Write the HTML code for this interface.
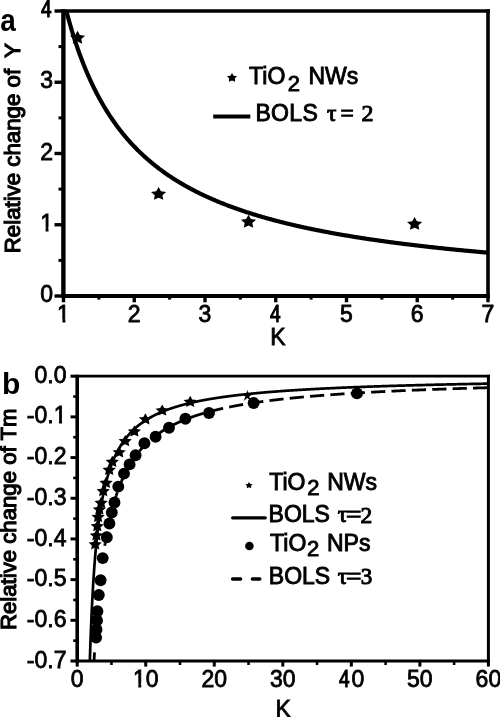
<!DOCTYPE html><html><head><meta charset="utf-8"><style>
html,body{margin:0;padding:0;background:#fff;}svg{display:block;}
text{font-family:"Liberation Sans",Arial,sans-serif;fill:#000;}
.n{font-size:23px;stroke:#000;stroke-width:0.8px;}
.four{stroke-width:1.1px;}
.t text{font-size:22.25px;stroke:#000;stroke-width:1.15px;}
.lg text{font-size:23px;stroke:#000;stroke-width:0.9px;}
.sym text{font-family:"Liberation Serif","Times New Roman",serif;font-size:23.5px;stroke:#000;stroke-width:1px;}
</style></head><body>
<svg width="500" height="717" viewBox="0 0 500 717">
<rect width="500" height="717" fill="#fff"/>
<defs><clipPath id="ca"><rect x="63.5" y="11" width="424.5" height="285"/></clipPath>
<clipPath id="cb"><rect x="77.2" y="376.2" width="411.2" height="284.8"/></clipPath></defs>
<path d="M63.50 -0.40 L64.21 2.50 L64.92 5.34 L65.62 8.13 L66.33 10.87 L67.04 13.55 L67.75 16.18 L68.45 18.77 L69.16 21.30 L69.87 23.79 L70.58 26.24 L71.28 28.64 L71.99 31.00 L72.70 33.31 L73.41 35.59 L74.11 37.83 L74.82 40.03 L75.53 42.19 L76.24 44.31 L76.94 46.40 L77.65 48.46 L78.36 50.48 L79.07 52.47 L79.77 54.43 L80.48 56.35 L81.19 58.24 L81.90 60.11 L82.60 61.94 L83.31 63.75 L84.02 65.53 L84.73 67.28 L85.43 69.01 L86.14 70.71 L86.85 72.38 L87.56 74.03 L88.26 75.65 L88.97 77.25 L89.68 78.83 L90.39 80.39 L91.09 81.92 L91.80 83.43 L92.51 84.92 L93.22 86.39 L93.92 87.84 L94.63 89.26 L95.34 90.67 L96.05 92.06 L96.75 93.43 L97.46 94.79 L98.17 96.12 L98.88 97.44 L99.58 98.74 L100.29 100.02 L101.00 101.28 L101.71 102.53 L102.41 103.77 L103.12 104.98 L103.83 106.19 L104.54 107.37 L105.24 108.54 L105.95 109.70 L106.66 110.85 L107.37 111.97 L108.07 113.09 L108.78 114.19 L109.49 115.28 L110.20 116.36 L110.90 117.42 L111.61 118.47 L112.32 119.51 L113.03 120.53 L113.73 121.55 L114.44 122.55 L115.15 123.54 L115.86 124.52 L116.56 125.49 L117.27 126.44 L117.98 127.39 L118.69 128.33 L119.39 129.25 L120.10 130.17 L120.81 131.07 L121.52 131.97 L122.22 132.85 L122.93 133.73 L123.64 134.60 L124.35 135.45 L125.05 136.30 L125.76 137.14 L126.47 137.97 L127.18 138.79 L127.88 139.61 L128.59 140.41 L129.30 141.21 L130.01 142.00 L130.71 142.78 L131.42 143.55 L132.13 144.31 L132.84 145.07 L133.54 145.82 L134.25 146.56 L134.96 147.30 L135.67 148.02 L136.37 148.74 L137.08 149.46 L137.79 150.16 L138.49 150.86 L139.20 151.56 L139.91 152.24 L140.62 152.92 L141.32 153.59 L142.03 154.26 L142.74 154.92 L143.45 155.58 L144.15 156.23 L144.86 156.87 L145.57 157.50 L146.28 158.13 L146.98 158.76 L147.69 159.38 L148.40 159.99 L149.11 160.60 L149.81 161.20 L150.52 161.80 L151.23 162.39 L151.94 162.98 L152.64 163.56 L153.35 164.14 L154.06 164.71 L154.77 165.27 L155.47 165.84 L156.18 166.39 L156.89 166.94 L157.60 167.49 L158.30 168.03 L159.01 168.57 L159.72 169.11 L160.43 169.63 L161.13 170.16 L161.84 170.68 L162.55 171.20 L163.26 171.71 L163.96 172.21 L164.67 172.72 L165.38 173.22 L166.09 173.71 L166.79 174.20 L167.50 174.69 L168.21 175.17 L168.92 175.65 L169.62 176.13 L170.33 176.60 L171.04 177.07 L171.75 177.53 L172.45 177.99 L173.16 178.45 L173.87 178.91 L174.58 179.36 L175.28 179.80 L175.99 180.25 L176.70 180.69 L177.41 181.12 L178.11 181.56 L178.82 181.99 L179.53 182.41 L180.24 182.84 L180.94 183.26 L181.65 183.67 L182.36 184.09 L183.07 184.50 L183.77 184.91 L184.48 185.31 L185.19 185.71 L185.90 186.11 L186.60 186.51 L187.31 186.90 L188.02 187.29 L188.73 187.68 L189.43 188.07 L190.14 188.45 L190.85 188.83 L191.56 189.20 L192.26 189.58 L192.97 189.95 L193.68 190.32 L194.39 190.68 L195.09 191.05 L195.80 191.41 L196.51 191.77 L197.22 192.12 L197.92 192.48 L198.63 192.83 L199.34 193.18 L200.05 193.53 L200.75 193.87 L201.46 194.21 L202.17 194.55 L202.88 194.89 L203.58 195.23 L204.29 195.56 L205.00 195.89 L205.71 196.22 L206.41 196.54 L207.12 196.87 L207.83 197.19 L208.54 197.51 L209.24 197.83 L209.95 198.14 L210.66 198.46 L211.37 198.77 L212.07 199.08 L212.78 199.39 L213.49 199.69 L214.20 200.00 L214.90 200.30 L215.61 200.60 L216.32 200.90 L217.03 201.19 L217.73 201.49 L218.44 201.78 L219.15 202.07 L219.86 202.36 L220.56 202.65 L221.27 202.94 L221.98 203.22 L222.69 203.50 L223.39 203.78 L224.10 204.06 L224.81 204.34 L225.52 204.61 L226.22 204.89 L226.93 205.16 L227.64 205.43 L228.35 205.70 L229.05 205.96 L229.76 206.23 L230.47 206.49 L231.18 206.76 L231.88 207.02 L232.59 207.28 L233.30 207.53 L234.01 207.79 L234.71 208.05 L235.42 208.30 L236.13 208.55 L236.84 208.80 L237.54 209.05 L238.25 209.30 L238.96 209.54 L239.67 209.79 L240.37 210.03 L241.08 210.27 L241.79 210.51 L242.50 210.75 L243.20 210.99 L243.91 211.23 L244.62 211.46 L245.33 211.70 L246.03 211.93 L246.74 212.16 L247.45 212.39 L248.16 212.62 L248.86 212.85 L249.57 213.07 L250.28 213.30 L250.99 213.52 L251.69 213.75 L252.40 213.97 L253.11 214.19 L253.82 214.41 L254.52 214.62 L255.23 214.84 L255.94 215.06 L256.65 215.27 L257.35 215.48 L258.06 215.70 L258.77 215.91 L259.48 216.12 L260.18 216.33 L260.89 216.53 L261.60 216.74 L262.31 216.95 L263.01 217.15 L263.72 217.35 L264.43 217.56 L265.14 217.76 L265.84 217.96 L266.55 218.16 L267.26 218.36 L267.97 218.55 L268.67 218.75 L269.38 218.94 L270.09 219.14 L270.80 219.33 L271.50 219.52 L272.21 219.71 L272.92 219.91 L273.63 220.09 L274.33 220.28 L275.04 220.47 L275.75 220.66 L276.46 220.84 L277.16 221.03 L277.87 221.21 L278.58 221.39 L279.29 221.58 L279.99 221.76 L280.70 221.94 L281.41 222.12 L282.12 222.30 L282.82 222.47 L283.53 222.65 L284.24 222.83 L284.95 223.00 L285.65 223.17 L286.36 223.35 L287.07 223.52 L287.78 223.69 L288.48 223.86 L289.19 224.03 L289.90 224.20 L290.61 224.37 L291.31 224.54 L292.02 224.71 L292.73 224.87 L293.44 225.04 L294.14 225.20 L294.85 225.37 L295.56 225.53 L296.27 225.69 L296.97 225.85 L297.68 226.01 L298.39 226.17 L299.10 226.33 L299.80 226.49 L300.51 226.65 L301.22 226.81 L301.93 226.96 L302.63 227.12 L303.34 227.27 L304.05 227.43 L304.76 227.58 L305.46 227.73 L306.17 227.89 L306.88 228.04 L307.59 228.19 L308.29 228.34 L309.00 228.49 L309.71 228.64 L310.42 228.79 L311.12 228.93 L311.83 229.08 L312.54 229.23 L313.25 229.37 L313.95 229.52 L314.66 229.66 L315.37 229.81 L316.08 229.95 L316.78 230.09 L317.49 230.23 L318.20 230.37 L318.91 230.52 L319.61 230.66 L320.32 230.79 L321.03 230.93 L321.74 231.07 L322.44 231.21 L323.15 231.35 L323.86 231.48 L324.57 231.62 L325.27 231.75 L325.98 231.89 L326.69 232.02 L327.40 232.16 L328.10 232.29 L328.81 232.42 L329.52 232.55 L330.23 232.69 L330.93 232.82 L331.64 232.95 L332.35 233.08 L333.06 233.21 L333.76 233.33 L334.47 233.46 L335.18 233.59 L335.89 233.72 L336.59 233.84 L337.30 233.97 L338.01 234.10 L338.72 234.22 L339.42 234.35 L340.13 234.47 L340.84 234.59 L341.55 234.72 L342.25 234.84 L342.96 234.96 L343.67 235.08 L344.38 235.20 L345.08 235.32 L345.79 235.44 L346.50 235.56 L347.21 235.68 L347.91 235.80 L348.62 235.92 L349.33 236.04 L350.04 236.16 L350.74 236.27 L351.45 236.39 L352.16 236.50 L352.87 236.62 L353.57 236.73 L354.28 236.85 L354.99 236.96 L355.70 237.08 L356.40 237.19 L357.11 237.30 L357.82 237.42 L358.53 237.53 L359.23 237.64 L359.94 237.75 L360.65 237.86 L361.36 237.97 L362.06 238.08 L362.77 238.19 L363.48 238.30 L364.19 238.41 L364.89 238.52 L365.60 238.62 L366.31 238.73 L367.02 238.84 L367.72 238.95 L368.43 239.05 L369.14 239.16 L369.85 239.26 L370.55 239.37 L371.26 239.47 L371.97 239.58 L372.68 239.68 L373.38 239.78 L374.09 239.89 L374.80 239.99 L375.51 240.09 L376.21 240.19 L376.92 240.29 L377.63 240.40 L378.34 240.50 L379.04 240.60 L379.75 240.70 L380.46 240.80 L381.17 240.90 L381.87 241.00 L382.58 241.09 L383.29 241.19 L384.00 241.29 L384.70 241.39 L385.41 241.48 L386.12 241.58 L386.83 241.68 L387.53 241.77 L388.24 241.87 L388.95 241.97 L389.66 242.06 L390.36 242.16 L391.07 242.25 L391.78 242.34 L392.49 242.44 L393.19 242.53 L393.90 242.62 L394.61 242.72 L395.32 242.81 L396.02 242.90 L396.73 242.99 L397.44 243.09 L398.15 243.18 L398.85 243.27 L399.56 243.36 L400.27 243.45 L400.98 243.54 L401.68 243.63 L402.39 243.72 L403.10 243.81 L403.81 243.90 L404.51 243.98 L405.22 244.07 L405.93 244.16 L406.64 244.25 L407.34 244.34 L408.05 244.42 L408.76 244.51 L409.47 244.60 L410.17 244.68 L410.88 244.77 L411.59 244.85 L412.30 244.94 L413.00 245.02 L413.71 245.11 L414.42 245.19 L415.13 245.28 L415.83 245.36 L416.54 245.44 L417.25 245.53 L417.96 245.61 L418.66 245.69 L419.37 245.77 L420.08 245.86 L420.79 245.94 L421.49 246.02 L422.20 246.10 L422.91 246.18 L423.62 246.26 L424.32 246.34 L425.03 246.42 L425.74 246.50 L426.45 246.58 L427.15 246.66 L427.86 246.74 L428.57 246.82 L429.28 246.90 L429.98 246.98 L430.69 247.06 L431.40 247.14 L432.11 247.21 L432.81 247.29 L433.52 247.37 L434.23 247.44 L434.94 247.52 L435.64 247.60 L436.35 247.67 L437.06 247.75 L437.77 247.83 L438.47 247.90 L439.18 247.98 L439.89 248.05 L440.60 248.13 L441.30 248.20 L442.01 248.28 L442.72 248.35 L443.43 248.42 L444.13 248.50 L444.84 248.57 L445.55 248.64 L446.26 248.72 L446.96 248.79 L447.67 248.86 L448.38 248.93 L449.09 249.01 L449.79 249.08 L450.50 249.15 L451.21 249.22 L451.92 249.29 L452.62 249.36 L453.33 249.43 L454.04 249.51 L454.75 249.58 L455.45 249.65 L456.16 249.72 L456.87 249.79 L457.58 249.86 L458.28 249.92 L458.99 249.99 L459.70 250.06 L460.41 250.13 L461.11 250.20 L461.82 250.27 L462.53 250.34 L463.24 250.40 L463.94 250.47 L464.65 250.54 L465.36 250.61 L466.07 250.67 L466.77 250.74 L467.48 250.81 L468.19 250.87 L468.90 250.94 L469.60 251.01 L470.31 251.07 L471.02 251.14 L471.73 251.20 L472.43 251.27 L473.14 251.33 L473.85 251.40 L474.56 251.46 L475.26 251.53 L475.97 251.59 L476.68 251.66 L477.39 251.72 L478.09 251.78 L478.80 251.85 L479.51 251.91 L480.22 251.97 L480.92 252.04 L481.63 252.10 L482.34 252.16 L483.05 252.22 L483.75 252.29 L484.46 252.35 L485.17 252.41 L485.88 252.47 L486.58 252.53 L487.29 252.60 L488.00 252.66" fill="none" stroke="#000" stroke-width="4.2" clip-path="url(#ca)"/>
<g stroke="#000" fill="none">
<line x1="61.5" y1="11" x2="489.8" y2="11" stroke-width="3.5"/>
<line x1="488" y1="9.3" x2="488" y2="298" stroke-width="3.6"/>
<line x1="63.4" y1="9.3" x2="63.4" y2="298" stroke-width="4.4"/>
<line x1="61.5" y1="296" x2="489.8" y2="296" stroke-width="4"/>
<line x1="54.5" y1="296.00" x2="62" y2="296.00" stroke-width="3.4"/>
<line x1="58.5" y1="260.38" x2="62" y2="260.38" stroke-width="3"/>
<line x1="54.5" y1="224.75" x2="62" y2="224.75" stroke-width="3.4"/>
<line x1="58.5" y1="189.12" x2="62" y2="189.12" stroke-width="3"/>
<line x1="54.5" y1="153.50" x2="62" y2="153.50" stroke-width="3.4"/>
<line x1="58.5" y1="117.88" x2="62" y2="117.88" stroke-width="3"/>
<line x1="54.5" y1="82.25" x2="62" y2="82.25" stroke-width="3.4"/>
<line x1="58.5" y1="46.62" x2="62" y2="46.62" stroke-width="3"/>
<line x1="54.5" y1="11.00" x2="62" y2="11.00" stroke-width="3.4"/>
<line x1="63.50" y1="297" x2="63.50" y2="302.3" stroke-width="3.4"/>
<line x1="98.88" y1="297" x2="98.88" y2="299.6" stroke-width="3"/>
<line x1="134.25" y1="297" x2="134.25" y2="302.3" stroke-width="3.4"/>
<line x1="169.62" y1="297" x2="169.62" y2="299.6" stroke-width="3"/>
<line x1="205.00" y1="297" x2="205.00" y2="302.3" stroke-width="3.4"/>
<line x1="240.38" y1="297" x2="240.38" y2="299.6" stroke-width="3"/>
<line x1="275.75" y1="297" x2="275.75" y2="302.3" stroke-width="3.4"/>
<line x1="311.12" y1="297" x2="311.12" y2="299.6" stroke-width="3"/>
<line x1="346.50" y1="297" x2="346.50" y2="302.3" stroke-width="3.4"/>
<line x1="381.88" y1="297" x2="381.88" y2="299.6" stroke-width="3"/>
<line x1="417.25" y1="297" x2="417.25" y2="302.3" stroke-width="3.4"/>
<line x1="452.62" y1="297" x2="452.62" y2="299.6" stroke-width="3"/>
<line x1="488.00" y1="297" x2="488.00" y2="302.3" stroke-width="3.4"/>
</g>
<g fill="#000">
<path d="M77.50 30.80 L79.85 35.03 L85.11 35.71 L81.30 39.00 L82.20 43.64 L77.50 41.45 L72.80 43.64 L73.70 39.00 L69.89 35.71 L75.15 35.03Z"/>
<path d="M158.60 187.00 L160.95 191.23 L166.21 191.91 L162.40 195.20 L163.30 199.84 L158.60 197.65 L153.90 199.84 L154.80 195.20 L150.99 191.91 L156.25 191.23Z"/>
<path d="M248.50 214.80 L250.85 219.03 L256.11 219.71 L252.30 223.00 L253.20 227.64 L248.50 225.45 L243.80 227.64 L244.70 223.00 L240.89 219.71 L246.15 219.03Z"/>
<path d="M414.60 217.00 L416.95 221.23 L422.21 221.91 L418.40 225.20 L419.30 229.84 L414.60 227.65 L409.90 229.84 L410.80 225.20 L406.99 221.91 L412.25 221.23Z"/>
</g>
<g class="n" text-anchor="end">
<text x="53" y="302.00">0</text>
<text x="53" y="230.75">1</text>
<text x="53" y="159.50">2</text>
<text x="53" y="88.25">3</text>
</g>
<text class="n four" transform="translate(40.9,17) scale(0.83,1)">4</text>
<g class="n" text-anchor="middle">
<text x="63.50" y="322">1</text>
<text x="134.25" y="322">2</text>
<text x="205.00" y="322">3</text>
<text x="346.50" y="322">5</text>
<text x="417.25" y="322">6</text>
<text x="488.00" y="322">7</text>
<text x="278" y="345.2">K</text>
</g>
<text class="n four" transform="translate(270.1,322) scale(0.83,1)">4</text>
<g class="t">
<text transform="translate(20.1,253.2) rotate(-90)">Relative change of</text>
<text transform="translate(20.1,57.9) rotate(-90)">Y</text>
</g>
<text transform="translate(0.3,31) scale(0.9,1)" style="font-size:31px;font-weight:bold">a</text>
<path d="M232.00 73.00 L233.71 75.66 L237.04 76.32 L234.77 78.62 L235.12 81.68 L232.00 80.44 L228.88 81.68 L229.23 78.62 L226.96 76.32 L230.29 75.66Z"/>
<g class="lg">
<text x="249.1" y="83.7">TiO</text>
<text x="287.7" y="91.2" style="font-size:22px">2</text>
<text x="308.5" y="83.7">NWs</text>
<text x="255.4" y="120.8" style="letter-spacing:0.35px">BOLS</text>
</g>
<g class="sym">
<text x="326.9" y="121.2">τ</text>
<text x="340.5" y="121.2">=</text>
<text x="361.5" y="121.4" style="font-size:24px">2</text>
</g>
<line x1="213.2" y1="116.5" x2="250.3" y2="116.5" stroke="#000" stroke-width="4"/>
<g clip-path="url(#cb)" fill="none" stroke="#000">
<path d="M87.48 764.87 L87.51 763.34 L87.53 761.82 L87.56 760.31 L87.58 758.81 L87.61 757.31 L87.63 755.82 L87.66 754.34 L87.68 752.87 L87.71 751.40 L87.74 749.95 L87.76 748.50 L87.79 747.06 L87.81 745.63 L87.84 744.20 L87.87 742.78 L87.89 741.37 L87.92 739.97 L87.95 738.57 L87.97 737.19 L88.00 735.81 L88.02 734.43 L88.05 733.07 L88.08 731.71 L88.11 730.36 L88.13 729.01 L88.16 727.68 L88.19 726.34 L88.21 725.02 L88.24 723.71 L88.27 722.40 L88.29 721.09 L88.32 719.80 L88.35 718.51 L88.38 717.23 L88.40 715.95 L88.43 714.68 L88.46 713.42 L88.49 712.16 L88.51 710.91 L88.54 709.67 L88.57 708.43 L88.60 707.20 L88.63 705.98 L88.65 704.76 L88.68 703.55 L88.71 702.35 L88.74 701.15 L88.77 699.96 L88.80 698.77 L88.83 697.59 L88.85 696.41 L88.88 695.25 L88.91 694.08 L88.94 692.93 L88.97 691.77 L89.00 690.63 L89.03 689.49 L89.06 688.36 L89.09 687.23 L89.11 686.11 L89.14 684.99 L89.17 683.88 L89.20 682.77 L89.23 681.67 L89.26 680.58 L89.29 679.49 L89.32 678.41 L89.35 677.33 L89.38 676.26 L89.41 675.19 L89.44 674.13 L89.47 673.07 L89.50 672.02 L89.53 670.97 L89.56 669.93 L89.59 668.89 L89.62 667.86 L89.65 666.84 L89.68 665.81 L89.72 664.80 L89.75 663.79 L89.78 662.78 L89.81 661.78 L89.84 660.78 L89.87 659.79 L89.90 658.80 L89.93 657.82 L89.96 656.85 L90.00 655.87 L90.03 654.90 L90.06 653.94 L90.09 652.98 L90.12 652.03 L90.15 651.08 L90.19 650.13 L90.22 649.19 L90.25 648.26 L90.28 647.33 L90.31 646.40 L90.35 645.48 L90.38 644.56 L90.41 643.64 L90.44 642.73 L90.48 641.83 L90.51 640.93 L90.54 640.03 L90.57 639.14 L90.61 638.25 L90.64 637.37 L90.67 636.49 L90.71 635.61 L90.74 634.74 L90.77 633.87 L90.81 633.01 L90.84 632.15 L90.87 631.29 L90.91 630.44 L90.94 629.59 L90.97 628.75 L91.01 627.91 L91.04 627.07 L91.08 626.24 L91.11 625.41 L91.15 624.58 L91.18 623.76 L91.21 622.94 L91.25 622.13 L91.28 621.32 L91.32 620.51 L91.35 619.71 L91.39 618.91 L91.42 618.12 L91.46 617.33 L91.49 616.54 L91.53 615.75 L91.56 614.97 L91.60 614.19 L91.63 613.42 L91.67 612.65 L91.71 611.88 L91.74 611.12 L91.78 610.36 L91.81 609.60 L91.85 608.85 L91.88 608.10 L91.92 607.35 L91.96 606.60 L91.99 605.86 L92.03 605.13 L92.07 604.39 L92.10 603.66 L92.14 602.93 L92.18 602.21 L92.21 601.49 L92.25 600.77 L92.29 600.06 L92.32 599.34 L92.36 598.64 L92.40 597.93 L92.44 597.23 L92.47 596.53 L92.51 595.83 L92.55 595.14 L92.59 594.45 L92.62 593.76 L92.66 593.07 L92.70 592.39 L92.74 591.71 L92.78 591.04 L92.82 590.36 L92.85 589.69 L92.89 589.03 L92.93 588.36 L92.97 587.70 L93.01 587.04 L93.05 586.39 L93.09 585.73 L93.13 585.08 L93.17 584.43 L93.20 583.79 L93.24 583.15 L93.28 582.51 L93.32 581.87 L93.36 581.24 L93.40 580.60 L93.44 579.97 L93.48 579.35 L93.52 578.72 L93.56 578.10 L93.60 577.48 L93.64 576.87 L93.68 576.25 L93.72 575.64 L93.77 575.03 L93.81 574.43 L93.85 573.82 L93.89 573.22 L93.93 572.62 L93.97 572.03 L94.01 571.43 L94.05 570.84 L94.09 570.25 L94.14 569.67 L94.18 569.08 L94.22 568.50 L94.26 567.92 L94.30 567.34 L94.35 566.77 L94.39 566.19 L94.43 565.62 L94.47 565.06 L94.51 564.49 L94.56 563.93 L94.60 563.37 L94.64 562.81 L94.69 562.25 L94.73 561.69 L94.77 561.14 L94.82 560.59 L94.86 560.04 L94.90 559.50 L94.95 558.95 L94.99 558.41 L95.03 557.87 L95.08 557.33 L95.12 556.80 L95.17 556.27 L95.21 555.73 L95.25 555.21 L95.30 554.68 L95.34 554.15 L95.39 553.63 L95.43 553.11 L95.48 552.59 L95.52 552.07 L95.57 551.56 L95.61 551.05 L95.66 550.53 L95.70 550.03 L95.75 549.52 L95.79 549.01 L95.84 548.51 L95.89 548.01 L95.93 547.51 L95.98 547.01 L96.02 546.52 L96.07 546.02 L96.12 545.53 L96.16 545.04 L96.21 544.55 L96.26 544.06 L96.30 543.58 L96.35 543.10 L96.40 542.62 L96.45 542.14 L96.49 541.66 L96.54 541.18 L96.59 540.71 L96.64 540.24 L96.68 539.77 L96.73 539.30 L96.78 538.83 L96.83 538.37 L96.88 537.90 L96.93 537.44 L96.97 536.98 L97.02 536.52 L97.07 536.07 L97.12 535.61 L97.17 535.16 L97.22 534.71 L97.27 534.26 L97.32 533.81 L97.37 533.36 L97.42 532.92 L97.47 532.47 L97.52 532.03 L97.57 531.59 L97.62 531.15 L97.67 530.71 L97.72 530.28 L97.77 529.85 L97.82 529.41 L97.87 528.98 L97.92 528.55 L97.97 528.12 L98.02 527.70 L98.07 527.27 L98.12 526.85 L98.18 526.43 L98.23 526.01 L98.28 525.59 L98.33 525.17 L98.38 524.76 L98.44 524.34 L98.49 523.93 L98.54 523.52 L98.59 523.11 L98.65 522.70 L98.70 522.29 L98.75 521.89 L98.80 521.48 L98.86 521.08 L98.91 520.68 L98.96 520.28 L99.02 519.88 L99.07 519.48 L99.13 519.09 L99.18 518.69 L99.23 518.30 L99.29 517.91 L99.34 517.51 L99.40 517.13 L99.45 516.74 L99.51 516.35 L99.56 515.97 L99.62 515.58 L99.67 515.20 L99.73 514.82 L99.78 514.44 L99.84 514.06 L99.89 513.68 L99.95 513.31 L100.01 512.93 L100.06 512.56 L100.12 512.19 L100.17 511.81 L100.23 511.44 L100.29 511.08 L100.34 510.71 L100.40 510.34 L100.46 509.98 L100.52 509.61 L100.57 509.25 L100.63 508.89 L100.69 508.53 L100.75 508.17 L100.80 507.81 L100.86 507.46 L100.92 507.10 L100.98 506.75 L101.04 506.39 L101.10 506.04 L101.16 505.69 L101.21 505.34 L101.27 504.99 L101.33 504.65 L101.39 504.30 L101.45 503.96 L101.51 503.61 L101.57 503.27 L101.63 502.93 L101.69 502.59 L101.75 502.25 L101.81 501.91 L101.87 501.57 L101.93 501.24 L101.99 500.90 L102.06 500.57 L102.12 500.24 L102.18 499.90 L102.24 499.57 L102.30 499.24 L102.36 498.92 L102.42 498.59 L102.49 498.26 L102.55 497.94 L102.61 497.61 L102.67 497.29 L102.74 496.97 L102.80 496.65 L102.86 496.33 L102.93 496.01 L102.99 495.69 L103.05 495.37 L103.12 495.06 L103.18 494.74 L103.24 494.43 L103.31 494.11 L103.37 493.80 L103.44 493.49 L103.50 493.18 L103.57 492.87 L103.63 492.56 L103.70 492.25 L103.76 491.95 L103.83 491.64 L103.89 491.34 L103.96 491.03 L104.02 490.73 L104.09 490.43 L104.16 490.13 L104.22 489.83 L104.29 489.53 L104.36 489.23 L104.42 488.94 L104.49 488.64 L104.56 488.35 L104.62 488.05 L104.69 487.76 L104.76 487.47 L104.83 487.17 L104.90 486.88 L104.96 486.59 L105.03 486.31 L105.10 486.02 L105.17 485.73 L105.24 485.44 L105.31 485.16 L105.38 484.87 L105.45 484.59 L105.52 484.31 L105.59 484.03 L105.66 483.75 L105.73 483.47 L105.80 483.19 L105.87 482.91 L105.94 482.63 L106.01 482.35 L106.08 482.08 L106.15 481.80 L106.22 481.53 L106.29 481.25 L106.36 480.98 L106.44 480.71 L106.51 480.44 L106.58 480.17 L106.65 479.90 L106.72 479.63 L106.80 479.36 L106.87 479.10 L106.94 478.83 L107.02 478.56 L107.09 478.30 L107.16 478.04 L107.24 477.77 L107.31 477.51 L107.39 477.25 L107.46 476.99 L107.53 476.73 L107.61 476.47 L107.68 476.21 L107.76 475.95 L107.83 475.70 L107.91 475.44 L107.98 475.19 L108.06 474.93 L108.14 474.68 L108.21 474.42 L108.29 474.17 L108.37 473.92 L108.44 473.67 L108.52 473.42 L108.60 473.17 L108.67 472.92 L108.75 472.67 L108.83 472.43 L108.91 472.18 L108.99 471.93 L109.06 471.69 L109.14 471.44 L109.22 471.20 L109.30 470.96 L109.38 470.71 L109.46 470.47 L109.54 470.23 L109.62 469.99 L109.70 469.75 L109.78 469.51 L109.86 469.27 L109.94 469.04 L110.02 468.80 L110.10 468.56 L110.18 468.33 L110.26 468.09 L110.34 467.86 L110.42 467.63 L110.51 467.39 L110.59 467.16 L110.67 466.93 L110.75 466.70 L110.83 466.47 L110.92 466.24 L111.00 466.01 L111.08 465.78 L111.17 465.56 L111.25 465.33 L111.33 465.10 L111.42 464.88 L111.50 464.65 L111.59 464.43 L111.67 464.20 L111.76 463.98 L111.84 463.76 L111.93 463.54 L112.01 463.32 L112.10 463.09 L112.18 462.87 L112.27 462.66 L112.36 462.44 L112.44 462.22 L112.53 462.00 L112.62 461.78 L112.70 461.57 L112.79 461.35 L112.88 461.14 L112.97 460.92 L113.06 460.71 L113.14 460.50 L113.23 460.28 L113.32 460.07 L113.41 459.86 L113.50 459.65 L113.59 459.44 L113.68 459.23 L113.77 459.02 L113.86 458.81 L113.95 458.60 L114.04 458.39 L114.13 458.19 L114.22 457.98 L114.31 457.78 L114.40 457.57 L114.49 457.37 L114.59 457.16 L114.68 456.96 L114.77 456.76 L114.86 456.55 L114.96 456.35 L115.05 456.15 L115.14 455.95 L115.24 455.75 L115.33 455.55 L115.42 455.35 L115.52 455.15 L115.61 454.95 L115.71 454.76 L115.80 454.56 L115.90 454.36 L115.99 454.17 L116.09 453.97 L116.18 453.78 L116.28 453.58 L116.37 453.39 L116.47 453.20 L116.57 453.00 L116.66 452.81 L116.76 452.62 L116.86 452.43 L116.96 452.24 L117.06 452.05 L117.15 451.86 L117.25 451.67 L117.35 451.48 L117.45 451.29 L117.55 451.10 L117.65 450.92 L117.75 450.73 L117.85 450.55 L117.95 450.36 L118.05 450.17 L118.15 449.99 L118.25 449.81 L118.35 449.62 L118.45 449.44 L118.55 449.26 L118.65 449.07 L118.76 448.89 L118.86 448.71 L118.96 448.53 L119.06 448.35 L119.17 448.17 L119.27 447.99 L119.37 447.81 L119.48 447.64 L119.58 447.46 L119.69 447.28 L119.79 447.10 L119.90 446.93 L120.00 446.75 L120.11 446.58 L120.21 446.40 L120.32 446.23 L120.42 446.05 L120.53 445.88 L120.64 445.71 L120.74 445.53 L120.85 445.36 L120.96 445.19 L121.07 445.02 L121.17 444.85 L121.28 444.68 L121.39 444.51 L121.50 444.34 L121.61 444.17 L121.72 444.00 L121.83 443.83 L121.94 443.66 L122.05 443.50 L122.16 443.33 L122.27 443.16 L122.38 443.00 L122.49 442.83 L122.60 442.67 L122.72 442.50 L122.83 442.34 L122.94 442.17 L123.05 442.01 L123.17 441.85 L123.28 441.69 L123.39 441.52 L123.51 441.36 L123.62 441.20 L123.73 441.04 L123.85 440.88 L123.96 440.72 L124.08 440.56 L124.19 440.40 L124.31 440.24 L124.43 440.08 L124.54 439.93 L124.66 439.77 L124.78 439.61 L124.89 439.45 L125.01 439.30 L125.13 439.14 L125.25 438.99 L125.36 438.83 L125.48 438.68 L125.60 438.52 L125.72 438.37 L125.84 438.22 L125.96 438.06 L126.08 437.91 L126.20 437.76 L126.32 437.61 L126.44 437.45 L126.56 437.30 L126.68 437.15 L126.81 437.00 L126.93 436.85 L127.05 436.70 L127.17 436.55 L127.30 436.41 L127.42 436.26 L127.54 436.11 L127.67 435.96 L127.79 435.81 L127.92 435.67 L128.04 435.52 L128.17 435.37 L128.29 435.23 L128.42 435.08 L128.54 434.94 L128.67 434.79 L128.80 434.65 L128.92 434.51 L129.05 434.36 L129.18 434.22 L129.31 434.08 L129.44 433.93 L129.56 433.79 L129.69 433.65 L129.82 433.51 L129.95 433.37 L130.08 433.23 L130.21 433.09 L130.34 432.95 L130.47 432.81 L130.60 432.67 L130.74 432.53 L130.87 432.39 L131.00 432.25 L131.13 432.12 L131.27 431.98 L131.40 431.84 L131.53 431.70 L131.67 431.57 L131.80 431.43 L131.93 431.30 L132.07 431.16 L132.20 431.03 L132.34 430.89 L132.48 430.76 L132.61 430.62 L132.75 430.49 L132.88 430.36 L133.02 430.22 L133.16 430.09 L133.30 429.96 L133.44 429.83 L133.57 429.69 L133.71 429.56 L133.85 429.43 L133.99 429.30 L134.13 429.17 L134.27 429.04 L134.41 428.91 L134.55 428.78 L134.69 428.65 L134.84 428.53 L134.98 428.40 L135.12 428.27 L135.26 428.14 L135.41 428.01 L135.55 427.89 L135.69 427.76 L135.84 427.63 L135.98 427.51 L136.13 427.38 L136.27 427.26 L136.42 427.13 L136.56 427.01 L136.71 426.88 L136.85 426.76 L137.00 426.63 L137.15 426.51 L137.30 426.39 L137.44 426.27 L137.59 426.14 L137.74 426.02 L137.89 425.90 L138.04 425.78 L138.19 425.66 L138.34 425.53 L138.49 425.41 L138.64 425.29 L138.79 425.17 L138.94 425.05 L139.10 424.93 L139.25 424.81 L139.40 424.69 L139.55 424.58 L139.71 424.46 L139.86 424.34 L140.02 424.22 L140.17 424.10 L140.33 423.99 L140.48 423.87 L140.64 423.75 L140.79 423.64 L140.95 423.52 L141.11 423.41 L141.26 423.29 L141.42 423.18 L141.58 423.06 L141.74 422.95 L141.90 422.83 L142.06 422.72 L142.22 422.60 L142.38 422.49 L142.54 422.38 L142.70 422.26 L142.86 422.15 L143.02 422.04 L143.18 421.93 L143.35 421.82 L143.51 421.70 L143.67 421.59 L143.84 421.48 L144.00 421.37 L144.16 421.26 L144.33 421.15 L144.49 421.04 L144.66 420.93 L144.83 420.82 L144.99 420.71 L145.16 420.60 L145.33 420.50 L145.49 420.39 L145.66 420.28 L145.83 420.17 L146.00 420.06 L146.17 419.96 L146.34 419.85 L146.51 419.74 L146.68 419.64 L146.85 419.53 L147.02 419.43 L147.19 419.32 L147.37 419.22 L147.54 419.11 L147.71 419.01 L147.89 418.90 L148.06 418.80 L148.24 418.69 L148.41 418.59 L148.59 418.49 L148.76 418.38 L148.94 418.28 L149.11 418.18 L149.29 418.07 L149.47 417.97 L149.65 417.87 L149.82 417.77 L150.00 417.67 L150.18 417.57 L150.36 417.46 L150.54 417.36 L150.72 417.26 L150.90 417.16 L151.09 417.06 L151.27 416.96 L151.45 416.86 L151.63 416.77 L151.82 416.67 L152.00 416.57 L152.18 416.47 L152.37 416.37 L152.55 416.27 L152.74 416.18 L152.93 416.08 L153.11 415.98 L153.30 415.88 L153.49 415.79 L153.67 415.69 L153.86 415.59 L154.05 415.50 L154.24 415.40 L154.43 415.31 L154.62 415.21 L154.81 415.12 L155.00 415.02 L155.19 414.93 L155.39 414.83 L155.58 414.74 L155.77 414.64 L155.96 414.55 L156.16 414.46 L156.35 414.36 L156.55 414.27 L156.74 414.18 L156.94 414.08 L157.14 413.99 L157.33 413.90 L157.53 413.81 L157.73 413.72 L157.93 413.63 L158.12 413.53 L158.32 413.44 L158.52 413.35 L158.72 413.26 L158.92 413.17 L159.13 413.08 L159.33 412.99 L159.53 412.90 L159.73 412.81 L159.94 412.72 L160.14 412.63 L160.34 412.55 L160.55 412.46 L160.75 412.37 L160.96 412.28 L161.17 412.19 L161.37 412.10 L161.58 412.02 L161.79 411.93 L162.00 411.84 L162.20 411.76 L162.41 411.67 L162.62 411.58 L162.83 411.50 L163.04 411.41 L163.26 411.32 L163.47 411.24 L163.68 411.15 L163.89 411.07 L164.11 410.98 L164.32 410.90 L164.53 410.81 L164.75 410.73 L164.97 410.65 L165.18 410.56 L165.40 410.48 L165.62 410.39 L165.83 410.31 L166.05 410.23 L166.27 410.15 L166.49 410.06 L166.71 409.98 L166.93 409.90 L167.15 409.82 L167.37 409.73 L167.59 409.65 L167.82 409.57 L168.04 409.49 L168.26 409.41 L168.49 409.33 L168.71 409.25 L168.94 409.17 L169.16 409.09 L169.39 409.01 L169.62 408.93 L169.84 408.85 L170.07 408.77 L170.30 408.69 L170.53 408.61 L170.76 408.53 L170.99 408.45 L171.22 408.37 L171.45 408.29 L171.69 408.22 L171.92 408.14 L172.15 408.06 L172.39 407.98 L172.62 407.90 L172.85 407.83 L173.09 407.75 L173.33 407.67 L173.56 407.60 L173.80 407.52 L174.04 407.44 L174.28 407.37 L174.52 407.29 L174.76 407.22 L175.00 407.14 L175.24 407.07 L175.48 406.99 L175.72 406.92 L175.96 406.84 L176.21 406.77 L176.45 406.69 L176.69 406.62 L176.94 406.54 L177.18 406.47 L177.43 406.40 L177.68 406.32 L177.92 406.25 L178.17 406.18 L178.42 406.10 L178.67 406.03 L178.92 405.96 L179.17 405.89 L179.42 405.81 L179.67 405.74 L179.93 405.67 L180.18 405.60 L180.43 405.53 L180.69 405.45 L180.94 405.38 L181.20 405.31 L181.45 405.24 L181.71 405.17 L181.97 405.10 L182.22 405.03 L182.48 404.96 L182.74 404.89 L183.00 404.82 L183.26 404.75 L183.52 404.68 L183.79 404.61 L184.05 404.54 L184.31 404.47 L184.58 404.40 L184.84 404.33 L185.10 404.27 L185.37 404.20 L185.64 404.13 L185.90 404.06 L186.17 403.99 L186.44 403.93 L186.71 403.86 L186.98 403.79 L187.25 403.72 L187.52 403.66 L187.79 403.59 L188.06 403.52 L188.34 403.46 L188.61 403.39 L188.88 403.32 L189.16 403.26 L189.43 403.19 L189.71 403.13 L189.99 403.06 L190.27 403.00 L190.54 402.93 L190.82 402.87 L191.10 402.80 L191.38 402.74 L191.66 402.67 L191.95 402.61 L192.23 402.54 L192.51 402.48 L192.80 402.41 L193.08 402.35 L193.37 402.29 L193.65 402.22 L193.94 402.16 L194.23 402.10 L194.51 402.03 L194.80 401.97 L195.09 401.91 L195.38 401.85 L195.67 401.78 L195.97 401.72 L196.26 401.66 L196.55 401.60 L196.85 401.53 L197.14 401.47 L197.44 401.41 L197.73 401.35 L198.03 401.29 L198.33 401.23 L198.62 401.17 L198.92 401.11 L199.22 401.05 L199.52 400.98 L199.82 400.92 L200.13 400.86 L200.43 400.80 L200.73 400.74 L201.04 400.68 L201.34 400.62 L201.65 400.57 L201.95 400.51 L202.26 400.45 L202.57 400.39 L202.88 400.33 L203.19 400.27 L203.50 400.21 L203.81 400.15 L204.12 400.09 L204.43 400.04 L204.75 399.98 L205.06 399.92 L205.37 399.86 L205.69 399.81 L206.01 399.75 L206.32 399.69 L206.64 399.63 L206.96 399.58 L207.28 399.52 L207.60 399.46 L207.92 399.41 L208.24 399.35 L208.57 399.29 L208.89 399.24 L209.21 399.18 L209.54 399.12 L209.86 399.07 L210.19 399.01 L210.52 398.96 L210.85 398.90 L211.18 398.85 L211.51 398.79 L211.84 398.74 L212.17 398.68 L212.50 398.63 L212.83 398.57 L213.17 398.52 L213.50 398.46 L213.84 398.41 L214.17 398.36 L214.51 398.30 L214.85 398.25 L215.19 398.19 L215.53 398.14 L215.87 398.09 L216.21 398.03 L216.55 397.98 L216.90 397.93 L217.24 397.87 L217.58 397.82 L217.93 397.77 L218.28 397.72 L218.62 397.66 L218.97 397.61 L219.32 397.56 L219.67 397.51 L220.02 397.46 L220.37 397.40 L220.73 397.35 L221.08 397.30 L221.43 397.25 L221.79 397.20 L222.15 397.15 L222.50 397.10 L222.86 397.04 L223.22 396.99 L223.58 396.94 L223.94 396.89 L224.30 396.84 L224.66 396.79 L225.03 396.74 L225.39 396.69 L225.75 396.64 L226.12 396.59 L226.49 396.54 L226.85 396.49 L227.22 396.44 L227.59 396.39 L227.96 396.34 L228.33 396.30 L228.71 396.25 L229.08 396.20 L229.45 396.15 L229.83 396.10 L230.20 396.05 L230.58 396.00 L230.96 395.96 L231.34 395.91 L231.72 395.86 L232.10 395.81 L232.48 395.76 L232.86 395.72 L233.24 395.67 L233.63 395.62 L234.01 395.57 L234.40 395.53 L234.79 395.48 L235.17 395.43 L235.56 395.39 L235.95 395.34 L236.34 395.29 L236.74 395.25 L237.13 395.20 L237.52 395.15 L237.92 395.11 L238.31 395.06 L238.71 395.01 L239.11 394.97 L239.51 394.92 L239.91 394.88 L240.31 394.83 L240.71 394.79 L241.11 394.74 L241.51 394.70 L241.92 394.65 L242.32 394.61 L242.73 394.56 L243.14 394.52 L243.55 394.47 L243.96 394.43 L244.37 394.38 L244.78 394.34 L245.19 394.29 L245.60 394.25 L246.02 394.21 L246.44 394.16 L246.85 394.12 L247.27 394.07 L247.69 394.03 L248.11 393.99 L248.53 393.94 L248.95 393.90 L249.37 393.86 L249.80 393.81 L250.22 393.77 L250.65 393.73 L251.08 393.69 L251.50 393.64 L251.93 393.60 L252.36 393.56 L252.79 393.52 L253.23 393.47 L253.66 393.43 L254.09 393.39 L254.53 393.35 L254.97 393.31 L255.40 393.26 L255.84 393.22 L256.28 393.18 L256.72 393.14 L257.17 393.10 L257.61 393.06 L258.05 393.02 L258.50 392.98 L258.95 392.93 L259.39 392.89 L259.84 392.85 L260.29 392.81 L260.74 392.77 L261.19 392.73 L261.65 392.69 L262.10 392.65 L262.56 392.61 L263.01 392.57 L263.47 392.53 L263.93 392.49 L264.39 392.45 L264.85 392.41 L265.31 392.37 L265.78 392.33 L266.24 392.29 L266.70 392.25 L267.17 392.21 L267.64 392.18 L268.11 392.14 L268.58 392.10 L269.05 392.06 L269.52 392.02 L270.00 391.98 L270.47 391.94 L270.95 391.91 L271.42 391.87 L271.90 391.83 L272.38 391.79 L272.86 391.75 L273.34 391.71 L273.83 391.68 L274.31 391.64 L274.80 391.60 L275.28 391.56 L275.77 391.53 L276.26 391.49 L276.75 391.45 L277.24 391.41 L277.73 391.38 L278.23 391.34 L278.72 391.30 L279.22 391.27 L279.72 391.23 L280.21 391.19 L280.71 391.16 L281.21 391.12 L281.72 391.08 L282.22 391.05 L282.73 391.01 L283.23 390.97 L283.74 390.94 L284.25 390.90 L284.76 390.87 L285.27 390.83 L285.78 390.80 L286.29 390.76 L286.81 390.72 L287.33 390.69 L287.84 390.65 L288.36 390.62 L288.88 390.58 L289.40 390.55 L289.92 390.51 L290.45 390.48 L290.97 390.44 L291.50 390.41 L292.03 390.37 L292.56 390.34 L293.09 390.30 L293.62 390.27 L294.15 390.24 L294.69 390.20 L295.22 390.17 L295.76 390.13 L296.30 390.10 L296.84 390.07 L297.38 390.03 L297.92 390.00 L298.46 389.96 L299.01 389.93 L299.55 389.90 L300.10 389.86 L300.65 389.83 L301.20 389.80 L301.75 389.76 L302.30 389.73 L302.86 389.70 L303.41 389.66 L303.97 389.63 L304.53 389.60 L305.09 389.57 L305.65 389.53 L306.21 389.50 L306.78 389.47 L307.34 389.44 L307.91 389.40 L308.48 389.37 L309.05 389.34 L309.62 389.31 L310.19 389.28 L310.76 389.24 L311.34 389.21 L311.91 389.18 L312.49 389.15 L313.07 389.12 L313.65 389.09 L314.23 389.05 L314.82 389.02 L315.40 388.99 L315.99 388.96 L316.58 388.93 L317.17 388.90 L317.76 388.87 L318.35 388.84 L318.94 388.80 L319.54 388.77 L320.14 388.74 L320.73 388.71 L321.33 388.68 L321.94 388.65 L322.54 388.62 L323.14 388.59 L323.75 388.56 L324.35 388.53 L324.96 388.50 L325.57 388.47 L326.18 388.44 L326.80 388.41 L327.41 388.38 L328.03 388.35 L328.65 388.32 L329.27 388.29 L329.89 388.26 L330.51 388.23 L331.13 388.20 L331.76 388.17 L332.38 388.14 L333.01 388.12 L333.64 388.09 L334.27 388.06 L334.91 388.03 L335.54 388.00 L336.18 387.97 L336.81 387.94 L337.45 387.91 L338.09 387.88 L338.74 387.86 L339.38 387.83 L340.03 387.80 L340.67 387.77 L341.32 387.74 L341.97 387.71 L342.63 387.69 L343.28 387.66 L343.93 387.63 L344.59 387.60 L345.25 387.57 L345.91 387.55 L346.57 387.52 L347.23 387.49 L347.90 387.46 L348.57 387.44 L349.23 387.41 L349.90 387.38 L350.57 387.35 L351.25 387.33 L351.92 387.30 L352.60 387.27 L353.28 387.25 L353.96 387.22 L354.64 387.19 L355.32 387.17 L356.01 387.14 L356.69 387.11 L357.38 387.08 L358.07 387.06 L358.76 387.03 L359.46 387.01 L360.15 386.98 L360.85 386.95 L361.55 386.93 L362.25 386.90 L362.95 386.87 L363.65 386.85 L364.36 386.82 L365.06 386.80 L365.77 386.77 L366.48 386.74 L367.20 386.72 L367.91 386.69 L368.63 386.67 L369.34 386.64 L370.06 386.62 L370.78 386.59 L371.51 386.57 L372.23 386.54 L372.96 386.51 L373.69 386.49 L374.42 386.46 L375.15 386.44 L375.88 386.41 L376.62 386.39 L377.35 386.36 L378.09 386.34 L378.83 386.31 L379.58 386.29 L380.32 386.27 L381.07 386.24 L381.82 386.22 L382.57 386.19 L383.32 386.17 L384.07 386.14 L384.83 386.12 L385.58 386.09 L386.34 386.07 L387.10 386.05 L387.87 386.02 L388.63 386.00 L389.40 385.97 L390.17 385.95 L390.94 385.93 L391.71 385.90 L392.49 385.88 L393.26 385.86 L394.04 385.83 L394.82 385.81 L395.60 385.78 L396.39 385.76 L397.17 385.74 L397.96 385.71 L398.75 385.69 L399.54 385.67 L400.34 385.64 L401.13 385.62 L401.93 385.60 L402.73 385.58 L403.53 385.55 L404.33 385.53 L405.14 385.51 L405.95 385.48 L406.76 385.46 L407.57 385.44 L408.38 385.42 L409.20 385.39 L410.01 385.37 L410.83 385.35 L411.66 385.33 L412.48 385.30 L413.30 385.28 L414.13 385.26 L414.96 385.24 L415.79 385.22 L416.63 385.19 L417.46 385.17 L418.30 385.15 L419.14 385.13 L419.98 385.11 L420.83 385.08 L421.67 385.06 L422.52 385.04 L423.37 385.02 L424.22 385.00 L425.08 384.98 L425.93 384.95 L426.79 384.93 L427.65 384.91 L428.52 384.89 L429.38 384.87 L430.25 384.85 L431.12 384.83 L431.99 384.81 L432.86 384.78 L433.74 384.76 L434.62 384.74 L435.50 384.72 L436.38 384.70 L437.26 384.68 L438.15 384.66 L439.04 384.64 L439.93 384.62 L440.82 384.60 L441.72 384.58 L442.62 384.56 L443.52 384.54 L444.42 384.52 L445.32 384.50 L446.23 384.48 L447.14 384.46 L448.05 384.43 L448.96 384.41 L449.88 384.39 L450.79 384.37 L451.71 384.35 L452.64 384.33 L453.56 384.31 L454.49 384.30 L455.42 384.28 L456.35 384.26 L457.28 384.24 L458.22 384.22 L459.15 384.20 L460.10 384.18 L461.04 384.16 L461.98 384.14 L462.93 384.12 L463.88 384.10 L464.83 384.08 L465.79 384.06 L466.74 384.04 L467.70 384.02 L468.66 384.00 L469.63 383.98 L470.59 383.96 L471.56 383.95 L472.53 383.93 L473.51 383.91 L474.48 383.89 L475.46 383.87 L476.44 383.85 L477.43 383.83 L478.41 383.81 L479.40 383.80 L480.39 383.78 L481.38 383.76 L482.38 383.74 L483.37 383.72 L484.37 383.70 L485.38 383.68 L486.38 383.67 L487.39 383.65 L488.40 383.63" stroke-width="2.7"/>
<path d="M488.40 387.65 L487.49 387.68 L486.59 387.71 L485.69 387.73 L484.79 387.76 L483.89 387.78 L483.00 387.81 L482.10 387.83 L481.21 387.86 L480.32 387.88 L479.44 387.91 L478.55 387.94 L477.67 387.96 L476.79 387.99 L475.91 388.01 L475.03 388.04 L474.15 388.06 L473.28 388.09 L472.41 388.12 L471.54 388.14 L470.67 388.17 L469.80 388.20 L468.94 388.22 L468.08 388.25 L467.22 388.28 L466.36 388.30 L465.50 388.33 L464.64 388.36 L463.79 388.38 L462.94 388.41 L462.09 388.44 L461.24 388.46 L460.40 388.49 L459.56 388.52 L458.71 388.54 L457.87 388.57 L457.04 388.60 L456.20 388.63 L455.36 388.65 L454.53 388.68 L453.70 388.71 L452.87 388.74 L452.05 388.76 L451.22 388.79 L450.40 388.82 L449.58 388.85 L448.76 388.87 L447.94 388.90 L447.12 388.93 L446.31 388.96 L445.49 388.99 L444.68 389.01 L443.87 389.04 L443.07 389.07 L442.26 389.10 L441.46 389.13 L440.66 389.16 L439.86 389.18 L439.06 389.21 L438.26 389.24 L437.47 389.27 L436.67 389.30 L435.88 389.33 L435.09 389.36 L434.30 389.38 L433.52 389.41 L432.73 389.44 L431.95 389.47 L431.17 389.50 L430.39 389.53 L429.61 389.56 L428.84 389.59 L428.06 389.62 L427.29 389.65 L426.52 389.68 L425.75 389.71 L424.98 389.74 L424.22 389.77 L423.45 389.80 L422.69 389.83 L421.93 389.86 L421.17 389.89 L420.42 389.92 L419.66 389.95 L418.91 389.98 L418.15 390.01 L417.40 390.04 L416.65 390.07 L415.91 390.10 L415.16 390.13 L414.42 390.16 L413.67 390.19 L412.93 390.22 L412.19 390.25 L411.46 390.28 L410.72 390.31 L409.99 390.35 L409.25 390.38 L408.52 390.41 L407.79 390.44 L407.07 390.47 L406.34 390.50 L405.62 390.53 L404.89 390.56 L404.17 390.60 L403.45 390.63 L402.73 390.66 L402.02 390.69 L401.30 390.72 L400.59 390.76 L399.88 390.79 L399.17 390.82 L398.46 390.85 L397.75 390.88 L397.04 390.92 L396.34 390.95 L395.64 390.98 L394.94 391.01 L394.24 391.05 L393.54 391.08 L392.84 391.11 L392.15 391.14 L391.45 391.18 L390.76 391.21 L390.07 391.24 L389.38 391.28 L388.70 391.31 L388.01 391.34 L387.33 391.38 L386.64 391.41 L385.96 391.44 L385.28 391.48 L384.60 391.51 L383.93 391.54 L383.25 391.58 L382.58 391.61 L381.91 391.64 L381.23 391.68 L380.57 391.71 L379.90 391.75 L379.23 391.78 L378.57 391.81 L377.90 391.85 L377.24 391.88 L376.58 391.92 L375.92 391.95 L375.26 391.99 L374.61 392.02 L373.95 392.06 L373.30 392.09 L372.65 392.13 L372.00 392.16 L371.35 392.20 L370.70 392.23 L370.05 392.27 L369.41 392.30 L368.77 392.34 L368.12 392.37 L367.48 392.41 L366.84 392.44 L366.21 392.48 L365.57 392.52 L364.94 392.55 L364.30 392.59 L363.67 392.62 L363.04 392.66 L362.41 392.70 L361.78 392.73 L361.16 392.77 L360.53 392.81 L359.91 392.84 L359.29 392.88 L358.66 392.91 L358.04 392.95 L357.43 392.99 L356.81 393.03 L356.19 393.06 L355.58 393.10 L354.97 393.14 L354.36 393.17 L353.74 393.21 L353.14 393.25 L352.53 393.29 L351.92 393.32 L351.32 393.36 L350.71 393.40 L350.11 393.44 L349.51 393.47 L348.91 393.51 L348.31 393.55 L347.72 393.59 L347.12 393.63 L346.53 393.67 L345.93 393.70 L345.34 393.74 L344.75 393.78 L344.16 393.82 L343.58 393.86 L342.99 393.90 L342.40 393.94 L341.82 393.97 L341.24 394.01 L340.66 394.05 L340.08 394.09 L339.50 394.13 L338.92 394.17 L338.34 394.21 L337.77 394.25 L337.20 394.29 L336.62 394.33 L336.05 394.37 L335.48 394.41 L334.91 394.45 L334.35 394.49 L333.78 394.53 L333.21 394.57 L332.65 394.61 L332.09 394.65 L331.53 394.69 L330.97 394.73 L330.41 394.77 L329.85 394.81 L329.30 394.85 L328.74 394.90 L328.19 394.94 L327.63 394.98 L327.08 395.02 L326.53 395.06 L325.98 395.10 L325.44 395.14 L324.89 395.18 L324.34 395.23 L323.80 395.27 L323.26 395.31 L322.72 395.35 L322.18 395.39 L321.64 395.44 L321.10 395.48 L320.56 395.52 L320.03 395.56 L319.49 395.61 L318.96 395.65 L318.42 395.69 L317.89 395.73 L317.36 395.78 L316.84 395.82 L316.31 395.86 L315.78 395.91 L315.26 395.95 L314.73 395.99 L314.21 396.04 L313.69 396.08 L313.17 396.12 L312.65 396.17 L312.13 396.21 L311.61 396.26 L311.10 396.30 L310.58 396.34 L310.07 396.39 L309.55 396.43 L309.04 396.48 L308.53 396.52 L308.02 396.57 L307.51 396.61 L307.01 396.66 L306.50 396.70 L306.00 396.75 L305.49 396.79 L304.99 396.84 L304.49 396.88 L303.99 396.93 L303.49 396.97 L302.99 397.02 L302.49 397.06 L302.00 397.11 L301.50 397.16 L301.01 397.20 L300.52 397.25 L300.03 397.29 L299.53 397.34 L299.05 397.39 L298.56 397.43 L298.07 397.48 L297.58 397.53 L297.10 397.57 L296.61 397.62 L296.13 397.67 L295.65 397.71 L295.17 397.76 L294.69 397.81 L294.21 397.86 L293.73 397.90 L293.26 397.95 L292.78 398.00 L292.30 398.05 L291.83 398.10 L291.36 398.14 L290.89 398.19 L290.42 398.24 L289.95 398.29 L289.48 398.34 L289.01 398.39 L288.55 398.43 L288.08 398.48 L287.62 398.53 L287.15 398.58 L286.69 398.63 L286.23 398.68 L285.77 398.73 L285.31 398.78 L284.85 398.83 L284.39 398.88 L283.94 398.93 L283.48 398.98 L283.03 399.03 L282.58 399.08 L282.12 399.13 L281.67 399.18 L281.22 399.23 L280.77 399.28 L280.33 399.33 L279.88 399.38 L279.43 399.43 L278.99 399.48 L278.54 399.53 L278.10 399.58 L277.66 399.64 L277.22 399.69 L276.78 399.74 L276.34 399.79 L275.90 399.84 L275.46 399.89 L275.02 399.95 L274.59 400.00 L274.15 400.05 L273.72 400.10 L273.29 400.16 L272.86 400.21 L272.43 400.26 L272.00 400.31 L271.57 400.37 L271.14 400.42 L270.71 400.47 L270.29 400.53 L269.86 400.58 L269.44 400.63 L269.01 400.69 L268.59 400.74 L268.17 400.79 L267.75 400.85 L267.33 400.90 L266.91 400.96 L266.49 401.01 L266.08 401.07 L265.66 401.12 L265.25 401.17 L264.83 401.23 L264.42 401.28 L264.01 401.34 L263.60 401.40 L263.19 401.45 L262.78 401.51 L262.37 401.56 L261.96 401.62 L261.55 401.67 L261.15 401.73 L260.74 401.78 L260.34 401.84 L259.93 401.90 L259.53 401.95 L259.13 402.01 L258.73 402.07 L258.33 402.12 L257.93 402.18 L257.53 402.24 L257.14 402.29 L256.74 402.35 L256.35 402.41 L255.95 402.47 L255.56 402.52 L255.17 402.58 L254.77 402.64 L254.38 402.70 L253.99 402.76 L253.60 402.81 L253.21 402.87 L252.83 402.93 L252.44 402.99 L252.05 403.05 L251.67 403.11 L251.29 403.17 L250.90 403.23 L250.52 403.29 L250.14 403.34 L249.76 403.40 L249.38 403.46 L249.00 403.52 L248.62 403.58 L248.24 403.64 L247.87 403.70 L247.49 403.76 L247.12 403.83 L246.74 403.89 L246.37 403.95 L246.00 404.01 L245.62 404.07 L245.25 404.13 L244.88 404.19 L244.52 404.25 L244.15 404.31 L243.78 404.38 L243.41 404.44 L243.05 404.50 L242.68 404.56 L242.32 404.62 L241.95 404.69 L241.59 404.75 L241.23 404.81 L240.87 404.87 L240.51 404.94 L240.15 405.00 L239.79 405.06 L239.43 405.13 L239.07 405.19 L238.72 405.25 L238.36 405.32 L238.01 405.38 L237.65 405.45 L237.30 405.51 L236.95 405.57 L236.60 405.64 L236.25 405.70 L235.90 405.77 L235.55 405.83 L235.20 405.90 L234.85 405.96 L234.50 406.03 L234.16 406.09 L233.81 406.16 L233.47 406.22 L233.12 406.29 L232.78 406.36 L232.44 406.42 L232.09 406.49 L231.75 406.56 L231.41 406.62 L231.07 406.69 L230.73 406.76 L230.40 406.82 L230.06 406.89 L229.72 406.96 L229.39 407.02 L229.05 407.09 L228.72 407.16 L228.38 407.23 L228.05 407.30 L227.72 407.36 L227.39 407.43 L227.06 407.50 L226.73 407.57 L226.40 407.64 L226.07 407.71 L225.74 407.78 L225.41 407.85 L225.09 407.91 L224.76 407.98 L224.44 408.05 L224.11 408.12 L223.79 408.19 L223.47 408.26 L223.15 408.33 L222.82 408.40 L222.50 408.48 L222.18 408.55 L221.86 408.62 L221.55 408.69 L221.23 408.76 L220.91 408.83 L220.60 408.90 L220.28 408.97 L219.96 409.05 L219.65 409.12 L219.34 409.19 L219.02 409.26 L218.71 409.34 L218.40 409.41 L218.09 409.48 L217.78 409.55 L217.47 409.63 L217.16 409.70 L216.85 409.77 L216.54 409.85 L216.24 409.92 L215.93 409.99 L215.63 410.07 L215.32 410.14 L215.02 410.22 L214.71 410.29 L214.41 410.37 L214.11 410.44 L213.81 410.52 L213.51 410.59 L213.21 410.67 L212.91 410.74 L212.61 410.82 L212.31 410.89 L212.01 410.97 L211.72 411.05 L211.42 411.12 L211.13 411.20 L210.83 411.28 L210.54 411.35 L210.24 411.43 L209.95 411.51 L209.66 411.59 L209.37 411.66 L209.08 411.74 L208.78 411.82 L208.49 411.90 L208.21 411.98 L207.92 412.05 L207.63 412.13 L207.34 412.21 L207.06 412.29 L206.77 412.37 L206.48 412.45 L206.20 412.53 L205.92 412.61 L205.63 412.69 L205.35 412.77 L205.07 412.85 L204.79 412.93 L204.51 413.01 L204.23 413.09 L203.95 413.17 L203.67 413.25 L203.39 413.33 L203.11 413.41 L202.83 413.50 L202.56 413.58 L202.28 413.66 L202.01 413.74 L201.73 413.82 L201.46 413.91 L201.18 413.99 L200.91 414.07 L200.64 414.15 L200.37 414.24 L200.09 414.32 L199.82 414.40 L199.55 414.49 L199.28 414.57 L199.02 414.66 L198.75 414.74 L198.48 414.82 L198.21 414.91 L197.95 414.99 L197.68 415.08 L197.42 415.16 L197.15 415.25 L196.89 415.34 L196.62 415.42 L196.36 415.51 L196.10 415.59 L195.84 415.68 L195.58 415.77 L195.31 415.85 L195.05 415.94 L194.80 416.03 L194.54 416.11 L194.28 416.20 L194.02 416.29 L193.76 416.38 L193.51 416.47 L193.25 416.55 L193.00 416.64 L192.74 416.73 L192.49 416.82 L192.23 416.91 L191.98 417.00 L191.73 417.09 L191.47 417.18 L191.22 417.27 L190.97 417.36 L190.72 417.45 L190.47 417.54 L190.22 417.63 L189.97 417.72 L189.72 417.81 L189.48 417.90 L189.23 417.99 L188.98 418.08 L188.74 418.17 L188.49 418.27 L188.25 418.36 L188.00 418.45 L187.76 418.54 L187.51 418.64 L187.27 418.73 L187.03 418.82 L186.79 418.92 L186.55 419.01 L186.31 419.10 L186.07 419.20 L185.83 419.29 L185.59 419.39 L185.35 419.48 L185.11 419.58 L184.87 419.67 L184.64 419.77 L184.40 419.86 L184.16 419.96 L183.93 420.05 L183.69 420.15 L183.46 420.25 L183.22 420.34 L182.99 420.44 L182.76 420.54 L182.53 420.63 L182.29 420.73 L182.06 420.83 L181.83 420.93 L181.60 421.02 L181.37 421.12 L181.14 421.22 L180.91 421.32 L180.68 421.42 L180.46 421.52 L180.23 421.62 L180.00 421.72 L179.78 421.81 L179.55 421.91 L179.33 422.01 L179.10 422.12 L178.88 422.22 L178.65 422.32 L178.43 422.42 L178.21 422.52 L177.98 422.62 L177.76 422.72 L177.54 422.82 L177.32 422.93 L177.10 423.03 L176.88 423.13 L176.66 423.23 L176.44 423.34 L176.22 423.44 L176.00 423.54 L175.79 423.65 L175.57 423.75 L175.35 423.86 L175.14 423.96 L174.92 424.06 L174.71 424.17 L174.49 424.27 L174.28 424.38 L174.06 424.49 L173.85 424.59 L173.64 424.70 L173.43 424.80 L173.21 424.91 L173.00 425.02 L172.79 425.12 L172.58 425.23 L172.37 425.34 L172.16 425.45 L171.95 425.55 L171.74 425.66 L171.54 425.77 L171.33 425.88 L171.12 425.99 L170.91 426.10 L170.71 426.21 L170.50 426.31 L170.30 426.42 L170.09 426.53 L169.89 426.64 L169.68 426.76 L169.48 426.87 L169.28 426.98 L169.07 427.09 L168.87 427.20 L168.67 427.31 L168.47 427.42 L168.27 427.54 L168.07 427.65 L167.87 427.76 L167.67 427.87 L167.47 427.99 L167.27 428.10 L167.07 428.21 L166.87 428.33 L166.68 428.44 L166.48 428.56 L166.28 428.67 L166.09 428.79 L165.89 428.90 L165.69 429.02 L165.50 429.13 L165.31 429.25 L165.11 429.36 L164.92 429.48 L164.73 429.60 L164.53 429.71 L164.34 429.83 L164.15 429.95 L163.96 430.07 L163.77 430.18 L163.58 430.30 L163.39 430.42 L163.20 430.54 L163.01 430.66 L162.82 430.78 L162.63 430.90 L162.44 431.02 L162.25 431.14 L162.07 431.26 L161.88 431.38 L161.69 431.50 L161.51 431.62 L161.32 431.74 L161.14 431.86 L160.95 431.99 L160.77 432.11 L160.58 432.23 L160.40 432.35 L160.22 432.48 L160.03 432.60 L159.85 432.72 L159.67 432.85 L159.49 432.97 L159.31 433.09 L159.13 433.22 L158.94 433.34 L158.76 433.47 L158.59 433.59 L158.41 433.72 L158.23 433.85 L158.05 433.97 L157.87 434.10 L157.69 434.23 L157.52 434.35 L157.34 434.48 L157.16 434.61 L156.99 434.74 L156.81 434.86 L156.64 434.99 L156.46 435.12 L156.29 435.25 L156.11 435.38 L155.94 435.51 L155.77 435.64 L155.59 435.77 L155.42 435.90 L155.25 436.03 L155.08 436.16 L154.90 436.29 L154.73 436.42 L154.56 436.56 L154.39 436.69 L154.22 436.82 L154.05 436.95 L153.88 437.09 L153.71 437.22 L153.55 437.35 L153.38 437.49 L153.21 437.62 L153.04 437.76 L152.88 437.89 L152.71 438.03 L152.54 438.16 L152.38 438.30 L152.21 438.43 L152.05 438.57 L151.88 438.71 L151.72 438.84 L151.55 438.98 L151.39 439.12 L151.23 439.26 L151.06 439.39 L150.90 439.53 L150.74 439.67 L150.58 439.81 L150.42 439.95 L150.25 440.09 L150.09 440.23 L149.93 440.37 L149.77 440.51 L149.61 440.65 L149.45 440.79 L149.29 440.93 L149.14 441.07 L148.98 441.22 L148.82 441.36 L148.66 441.50 L148.50 441.65 L148.35 441.79 L148.19 441.93 L148.03 442.08 L147.88 442.22 L147.72 442.37 L147.57 442.51 L147.41 442.66 L147.26 442.80 L147.10 442.95 L146.95 443.09 L146.80 443.24 L146.64 443.39 L146.49 443.53 L146.34 443.68 L146.19 443.83 L146.03 443.98 L145.88 444.13 L145.73 444.27 L145.58 444.42 L145.43 444.57 L145.28 444.72 L145.13 444.87 L144.98 445.02 L144.83 445.17 L144.68 445.32 L144.53 445.48 L144.39 445.63 L144.24 445.78 L144.09 445.93 L143.94 446.09 L143.80 446.24 L143.65 446.39 L143.50 446.55 L143.36 446.70 L143.21 446.85 L143.07 447.01 L142.92 447.16 L142.78 447.32 L142.63 447.48 L142.49 447.63 L142.34 447.79 L142.20 447.94 L142.06 448.10 L141.91 448.26 L141.77 448.42 L141.63 448.58 L141.49 448.73 L141.35 448.89 L141.21 449.05 L141.06 449.21 L140.92 449.37 L140.78 449.53 L140.64 449.69 L140.50 449.85 L140.36 450.02 L140.23 450.18 L140.09 450.34 L139.95 450.50 L139.81 450.66 L139.67 450.83 L139.53 450.99 L139.40 451.16 L139.26 451.32 L139.12 451.48 L138.99 451.65 L138.85 451.81 L138.72 451.98 L138.58 452.15 L138.45 452.31 L138.31 452.48 L138.18 452.65 L138.04 452.81 L137.91 452.98 L137.77 453.15 L137.64 453.32 L137.51 453.49 L137.38 453.66 L137.24 453.83 L137.11 454.00 L136.98 454.17 L136.85 454.34 L136.72 454.51 L136.58 454.68 L136.45 454.85 L136.32 455.03 L136.19 455.20 L136.06 455.37 L135.93 455.55 L135.80 455.72 L135.68 455.89 L135.55 456.07 L135.42 456.24 L135.29 456.42 L135.16 456.60 L135.03 456.77 L134.91 456.95 L134.78 457.13 L134.65 457.30 L134.53 457.48 L134.40 457.66 L134.27 457.84 L134.15 458.02 L134.02 458.20 L133.90 458.38 L133.77 458.56 L133.65 458.74 L133.53 458.92 L133.40 459.10 L133.28 459.28 L133.15 459.46 L133.03 459.65 L132.91 459.83 L132.79 460.01 L132.66 460.20 L132.54 460.38 L132.42 460.57 L132.30 460.75 L132.18 460.94 L132.05 461.12 L131.93 461.31 L131.81 461.50 L131.69 461.68 L131.57 461.87 L131.45 462.06 L131.33 462.25 L131.22 462.44 L131.10 462.62 L130.98 462.81 L130.86 463.00 L130.74 463.19 L130.62 463.39 L130.51 463.58 L130.39 463.77 L130.27 463.96 L130.15 464.15 L130.04 464.35 L129.92 464.54 L129.81 464.73 L129.69 464.93 L129.57 465.12 L129.46 465.32 L129.34 465.51 L129.23 465.71 L129.11 465.91 L129.00 466.10 L128.89 466.30 L128.77 466.50 L128.66 466.70 L128.55 466.90 L128.43 467.10 L128.32 467.29 L128.21 467.49 L128.09 467.70 L127.98 467.90 L127.87 468.10 L127.76 468.30 L127.65 468.50 L127.54 468.70 L127.43 468.91 L127.32 469.11 L127.21 469.32 L127.10 469.52 L126.99 469.72 L126.88 469.93 L126.77 470.14 L126.66 470.34 L126.55 470.55 L126.44 470.76 L126.33 470.96 L126.22 471.17 L126.12 471.38 L126.01 471.59 L125.90 471.80 L125.79 472.01 L125.69 472.22 L125.58 472.43 L125.47 472.64 L125.37 472.86 L125.26 473.07 L125.15 473.28 L125.05 473.49 L124.94 473.71 L124.84 473.92 L124.73 474.14 L124.63 474.35 L124.52 474.57 L124.42 474.78 L124.32 475.00 L124.21 475.22 L124.11 475.44 L124.01 475.65 L123.90 475.87 L123.80 476.09 L123.70 476.31 L123.60 476.53 L123.49 476.75 L123.39 476.97 L123.29 477.20 L123.19 477.42 L123.09 477.64 L122.99 477.86 L122.88 478.09 L122.78 478.31 L122.68 478.54 L122.58 478.76 L122.48 478.99 L122.38 479.21 L122.28 479.44 L122.19 479.67 L122.09 479.90 L121.99 480.12 L121.89 480.35 L121.79 480.58 L121.69 480.81 L121.59 481.04 L121.50 481.27 L121.40 481.50 L121.30 481.74 L121.20 481.97 L121.11 482.20 L121.01 482.43 L120.91 482.67 L120.82 482.90 L120.72 483.14 L120.63 483.37 L120.53 483.61 L120.44 483.85 L120.34 484.08 L120.25 484.32 L120.15 484.56 L120.06 484.80 L119.96 485.04 L119.87 485.28 L119.77 485.52 L119.68 485.76 L119.59 486.00 L119.49 486.24 L119.40 486.49 L119.31 486.73 L119.21 486.97 L119.12 487.22 L119.03 487.46 L118.94 487.71 L118.85 487.95 L118.75 488.20 L118.66 488.45 L118.57 488.69 L118.48 488.94 L118.39 489.19 L118.30 489.44 L118.21 489.69 L118.12 489.94 L118.03 490.19 L117.94 490.44 L117.85 490.69 L117.76 490.95 L117.67 491.20 L117.58 491.45 L117.49 491.71 L117.40 491.96 L117.31 492.22 L117.23 492.48 L117.14 492.73 L117.05 492.99 L116.96 493.25 L116.87 493.51 L116.79 493.76 L116.70 494.02 L116.61 494.28 L116.53 494.55 L116.44 494.81 L116.35 495.07 L116.27 495.33 L116.18 495.60 L116.10 495.86 L116.01 496.12 L115.92 496.39 L115.84 496.65 L115.75 496.92 L115.67 497.19 L115.58 497.46 L115.50 497.72 L115.42 497.99 L115.33 498.26 L115.25 498.53 L115.16 498.80 L115.08 499.07 L115.00 499.34 L114.91 499.62 L114.83 499.89 L114.75 500.16 L114.67 500.44 L114.58 500.71 L114.50 500.99 L114.42 501.27 L114.34 501.54 L114.25 501.82 L114.17 502.10 L114.09 502.38 L114.01 502.66 L113.93 502.94 L113.85 503.22 L113.77 503.50 L113.69 503.78 L113.61 504.06 L113.53 504.35 L113.45 504.63 L113.37 504.91 L113.29 505.20 L113.21 505.49 L113.13 505.77 L113.05 506.06 L112.97 506.35 L112.89 506.64 L112.81 506.93 L112.74 507.22 L112.66 507.51 L112.58 507.80 L112.50 508.09 L112.42 508.38 L112.35 508.68 L112.27 508.97 L112.19 509.26 L112.11 509.56 L112.04 509.86 L111.96 510.15 L111.88 510.45 L111.81 510.75 L111.73 511.05 L111.66 511.35 L111.58 511.65 L111.50 511.95 L111.43 512.25 L111.35 512.55 L111.28 512.85 L111.20 513.16 L111.13 513.46 L111.05 513.77 L110.98 514.07 L110.90 514.38 L110.83 514.69 L110.76 515.00 L110.68 515.30 L110.61 515.61 L110.53 515.92 L110.46 516.23 L110.39 516.55 L110.32 516.86 L110.24 517.17 L110.17 517.49 L110.10 517.80 L110.02 518.12 L109.95 518.43 L109.88 518.75 L109.81 519.07 L109.74 519.38 L109.66 519.70 L109.59 520.02 L109.52 520.34 L109.45 520.67 L109.38 520.99 L109.31 521.31 L109.24 521.63 L109.17 521.96 L109.10 522.28 L109.03 522.61 L108.96 522.94 L108.89 523.26 L108.82 523.59 L108.75 523.92 L108.68 524.25 L108.61 524.58 L108.54 524.91 L108.47 525.24 L108.40 525.58 L108.33 525.91 L108.26 526.24 L108.20 526.58 L108.13 526.92 L108.06 527.25 L107.99 527.59 L107.92 527.93 L107.86 528.27 L107.79 528.61 L107.72 528.95 L107.65 529.29 L107.59 529.63 L107.52 529.98 L107.45 530.32 L107.39 530.67 L107.32 531.01 L107.25 531.36 L107.19 531.71 L107.12 532.05 L107.06 532.40 L106.99 532.75 L106.93 533.10 L106.86 533.46 L106.79 533.81 L106.73 534.16 L106.66 534.52 L106.60 534.87 L106.53 535.23 L106.47 535.58 L106.41 535.94 L106.34 536.30 L106.28 536.66 L106.21 537.02 L106.15 537.38 L106.09 537.74 L106.02 538.10 L105.96 538.47 L105.90 538.83 L105.83 539.20 L105.77 539.56 L105.71 539.93 L105.64 540.30 L105.58 540.67 L105.52 541.04 L105.46 541.41 L105.39 541.78 L105.33 542.15 L105.27 542.53 L105.21 542.90 L105.15 543.28 L105.08 543.65 L105.02 544.03 L104.96 544.41 L104.90 544.79 L104.84 545.17 L104.78 545.55 L104.72 545.93" stroke-width="2.8" stroke-dasharray="14.2 6.2" stroke-dashoffset="19.2"/>
<path d="M92.28 698.50 L92.31 697.70 L92.34 696.90 L92.38 696.10 L92.41 695.30 L92.44 694.51 L92.48 693.71 L92.51 692.93 L92.55 692.14 L92.58 691.35 L92.61 690.57 L92.65 689.79 L92.68 689.02 L92.72 688.24 L92.75 687.47 L92.78 686.70 L92.82 685.93 L92.85 685.17 L92.89 684.40 L92.92 683.64 L92.96 682.89 L92.99 682.13 L93.03 681.38 L93.06 680.63 L93.10 679.88 L93.13 679.13 L93.17 678.39 L93.20 677.64 L93.24 676.90 L93.27 676.17 L93.31 675.43 L93.34 674.70 L93.38 673.97 L93.41 673.24 L93.45 672.51 L93.49 671.79 L93.52 671.06 L93.56 670.34 L93.59 669.63 L93.63 668.91 L93.67 668.20 L93.70 667.49 L93.74 666.78 L93.78 666.07 L93.81 665.36 L93.85 664.66 L93.89 663.96 L93.92 663.26 L93.96 662.56 L94.00 661.87 L94.03 661.18 L94.07 660.49 L94.11 659.80 L94.15 659.11 L94.18 658.43 L94.22 657.74 L94.26 657.06 L94.30 656.38 L94.33 655.71 L94.37 655.03 L94.41 654.36 L94.45 653.69 L94.48 653.02 L94.52 652.35" stroke-width="2.8"/>
</g>
<g fill="#000" clip-path="url(#cb)">
<circle cx="357.0" cy="393.4" r="5.95"/>
<circle cx="253.6" cy="403.0" r="5.95"/>
<circle cx="209.0" cy="413.0" r="5.95"/>
<circle cx="185.4" cy="418.8" r="5.95"/>
<circle cx="169.0" cy="427.8" r="5.95"/>
<circle cx="155.6" cy="436.8" r="5.95"/>
<circle cx="144.4" cy="443.2" r="5.95"/>
<circle cx="135.6" cy="455.2" r="5.95"/>
<circle cx="129.6" cy="464.4" r="5.95"/>
<circle cx="124.0" cy="473.6" r="5.95"/>
<circle cx="118.3" cy="486.6" r="5.95"/>
<circle cx="114.5" cy="502.5" r="5.95"/>
<circle cx="111.8" cy="512.5" r="5.95"/>
<circle cx="109.4" cy="523.5" r="5.95"/>
<circle cx="106.8" cy="537.2" r="5.95"/>
<circle cx="102.7" cy="558.1" r="5.95"/>
<circle cx="100.6" cy="580.3" r="5.95"/>
<circle cx="98.8" cy="595.0" r="5.95"/>
<circle cx="97.4" cy="611.3" r="5.95"/>
<circle cx="97.0" cy="620.4" r="5.95"/>
<circle cx="96.5" cy="629.4" r="5.95"/>
<circle cx="96.1" cy="637.5" r="5.95"/>
<path d="M247.30 389.80 L248.47 394.39 L253.20 394.08 L249.19 396.61 L250.94 401.02 L247.30 397.98 L243.66 401.02 L245.41 396.61 L241.40 394.08 L246.13 394.39Z"/>
<path d="M190.20 395.80 L192.26 399.49 L196.86 400.08 L193.53 402.96 L194.31 407.02 L190.20 405.10 L186.09 407.02 L186.87 402.96 L183.54 400.08 L188.14 399.49Z"/>
<path d="M162.20 404.40 L164.26 408.09 L168.86 408.68 L165.53 411.56 L166.31 415.62 L162.20 413.70 L158.09 415.62 L158.87 411.56 L155.54 408.68 L160.14 408.09Z"/>
<path d="M145.40 413.20 L147.46 416.89 L152.06 417.48 L148.73 420.36 L149.51 424.42 L145.40 422.50 L141.29 424.42 L142.07 420.36 L138.74 417.48 L143.34 416.89Z"/>
<path d="M134.40 425.40 L136.46 429.09 L141.06 429.68 L137.73 432.56 L138.51 436.62 L134.40 434.70 L130.29 436.62 L131.07 432.56 L127.74 429.68 L132.34 429.09Z"/>
<path d="M125.20 435.00 L127.26 438.69 L131.86 439.28 L128.53 442.16 L129.31 446.22 L125.20 444.30 L121.09 446.22 L121.87 442.16 L118.54 439.28 L123.14 438.69Z"/>
<path d="M119.20 446.20 L121.26 449.89 L125.86 450.48 L122.53 453.36 L123.31 457.42 L119.20 455.50 L115.09 457.42 L115.87 453.36 L112.54 450.48 L117.14 449.89Z"/>
<path d="M112.30 455.80 L114.36 459.49 L118.96 460.08 L115.63 462.96 L116.41 467.02 L112.30 465.10 L108.19 467.02 L108.97 462.96 L105.64 460.08 L110.24 459.49Z"/>
<path d="M109.20 463.80 L111.26 467.49 L115.86 468.08 L112.53 470.96 L113.31 475.02 L109.20 473.10 L105.09 475.02 L105.87 470.96 L102.54 468.08 L107.14 467.49Z"/>
<path d="M106.00 476.80 L108.06 480.49 L112.66 481.08 L109.33 483.96 L110.11 488.02 L106.00 486.10 L101.89 488.02 L102.67 483.96 L99.34 481.08 L103.94 480.49Z"/>
<path d="M103.20 485.00 L105.26 488.69 L109.86 489.28 L106.53 492.16 L107.31 496.22 L103.20 494.30 L99.09 496.22 L99.87 492.16 L96.54 489.28 L101.14 488.69Z"/>
<path d="M101.10 496.80 L103.16 500.49 L107.76 501.08 L104.43 503.96 L105.21 508.02 L101.10 506.10 L96.99 508.02 L97.77 503.96 L94.44 501.08 L99.04 500.49Z"/>
<path d="M99.40 503.40 L101.46 507.09 L106.06 507.68 L102.73 510.56 L103.51 514.62 L99.40 512.70 L95.29 514.62 L96.07 510.56 L92.74 507.68 L97.34 507.09Z"/>
<path d="M98.10 510.90 L100.16 514.59 L104.76 515.18 L101.43 518.06 L102.21 522.12 L98.10 520.20 L93.99 522.12 L94.77 518.06 L91.44 515.18 L96.04 514.59Z"/>
<path d="M97.30 520.10 L99.36 523.79 L103.96 524.38 L100.63 527.26 L101.41 531.32 L97.30 529.40 L93.19 531.32 L93.97 527.26 L90.64 524.38 L95.24 523.79Z"/>
<path d="M96.40 529.40 L98.46 533.09 L103.06 533.68 L99.73 536.56 L100.51 540.62 L96.40 538.70 L92.29 540.62 L93.07 536.56 L89.74 533.68 L94.34 533.09Z"/>
<path d="M95.20 538.30 L97.26 541.99 L101.86 542.58 L98.53 545.46 L99.31 549.52 L95.20 547.60 L91.09 549.52 L91.87 545.46 L88.54 542.58 L93.14 541.99Z"/>
</g>
<g stroke="#000" fill="none">
<line x1="75.5" y1="376.2" x2="489.9" y2="376.2" stroke-width="2.8"/>
<line x1="488.4" y1="374.8" x2="488.4" y2="662.5" stroke-width="3"/>
<line x1="77.2" y1="374.8" x2="77.2" y2="662.5" stroke-width="3.6"/>
<line x1="75.5" y1="661" x2="489.9" y2="661" stroke-width="3.2"/>
<line x1="70.5" y1="376.20" x2="76" y2="376.20" stroke-width="3"/>
<line x1="73.2" y1="396.54" x2="76" y2="396.54" stroke-width="2.6"/>
<line x1="70.5" y1="416.89" x2="76" y2="416.89" stroke-width="3"/>
<line x1="73.2" y1="437.23" x2="76" y2="437.23" stroke-width="2.6"/>
<line x1="70.5" y1="457.57" x2="76" y2="457.57" stroke-width="3"/>
<line x1="73.2" y1="477.91" x2="76" y2="477.91" stroke-width="2.6"/>
<line x1="70.5" y1="498.26" x2="76" y2="498.26" stroke-width="3"/>
<line x1="73.2" y1="518.60" x2="76" y2="518.60" stroke-width="2.6"/>
<line x1="70.5" y1="538.94" x2="76" y2="538.94" stroke-width="3"/>
<line x1="73.2" y1="559.29" x2="76" y2="559.29" stroke-width="2.6"/>
<line x1="70.5" y1="579.63" x2="76" y2="579.63" stroke-width="3"/>
<line x1="73.2" y1="599.97" x2="76" y2="599.97" stroke-width="2.6"/>
<line x1="70.5" y1="620.31" x2="76" y2="620.31" stroke-width="3"/>
<line x1="73.2" y1="640.66" x2="76" y2="640.66" stroke-width="2.6"/>
<line x1="70.5" y1="661.00" x2="76" y2="661.00" stroke-width="3"/>
<line x1="77.20" y1="662" x2="77.20" y2="666.6" stroke-width="3"/>
<line x1="111.47" y1="662" x2="111.47" y2="665" stroke-width="2.6"/>
<line x1="145.73" y1="662" x2="145.73" y2="666.6" stroke-width="3"/>
<line x1="180.00" y1="662" x2="180.00" y2="665" stroke-width="2.6"/>
<line x1="214.27" y1="662" x2="214.27" y2="666.6" stroke-width="3"/>
<line x1="248.53" y1="662" x2="248.53" y2="665" stroke-width="2.6"/>
<line x1="282.80" y1="662" x2="282.80" y2="666.6" stroke-width="3"/>
<line x1="317.07" y1="662" x2="317.07" y2="665" stroke-width="2.6"/>
<line x1="351.33" y1="662" x2="351.33" y2="666.6" stroke-width="3"/>
<line x1="385.60" y1="662" x2="385.60" y2="665" stroke-width="2.6"/>
<line x1="419.87" y1="662" x2="419.87" y2="666.6" stroke-width="3"/>
<line x1="454.13" y1="662" x2="454.13" y2="665" stroke-width="2.6"/>
<line x1="488.40" y1="662" x2="488.40" y2="666.6" stroke-width="3"/>
</g>
<g class="n" text-anchor="end">
<text x="66.5" y="382.80">0.0</text>
<text x="66.5" y="423.49">-0.1</text>
<text x="66.5" y="464.17">-0.2</text>
<text x="66.5" y="504.86">-0.3</text>
<text x="66.5" y="545.54">-0.4</text>
<text x="66.5" y="586.23">-0.5</text>
<text x="66.5" y="626.91">-0.6</text>
<text x="66.5" y="667.60">-0.7</text>
</g>
<g class="n" text-anchor="middle">
<text x="77.20" y="686.8">0</text>
<text x="145.73" y="686.8">10</text>
<text x="214.27" y="686.8">20</text>
<text x="282.80" y="686.8">30</text>
<text x="419.87" y="686.8">50</text>
<text x="488.40" y="686.8">60</text>
<text x="283.2" y="716.5">K</text>
</g>
<text class="n four" transform="translate(339.1,686.8) scale(0.83,1)">4</text>
<text class="n" x="351.6" y="686.8">0</text>
<g class="t"><text transform="translate(16.1,630.1) rotate(-90)" style="font-size:22.2px">Relative change of Tm</text></g>
<text x="2" y="394.4" style="font-size:30px;font-weight:bold">b</text>
<path d="M249.00 482.00 L250.23 483.89 L252.61 484.35 L250.99 485.98 L251.23 488.15 L249.00 487.27 L246.77 488.15 L247.01 485.98 L245.39 484.35 L247.77 483.89Z"/>
<circle cx="249.4" cy="546" r="4.3" fill="#000"/>
<line x1="232.6" y1="517.8" x2="265.3" y2="517.8" stroke="#000" stroke-width="3.2" stroke-linecap="round"/>
<line x1="232.6" y1="579" x2="240.6" y2="579" stroke="#000" stroke-width="3.4" stroke-linecap="round"/>
<line x1="252.4" y1="579" x2="259.8" y2="579" stroke="#000" stroke-width="3.4" stroke-linecap="round"/>
<g class="lg">
<text x="269.3" y="489.7">TiO</text>
<text x="307.2" y="494.6" style="font-size:22px">2</text>
<text x="327.2" y="489.6">NWs</text>
<text x="268.6" y="522.4">BOLS</text>
<text x="270.1" y="550.8">TiO</text>
<text x="306.9" y="555.6" style="font-size:22px">2</text>
<text x="327" y="550.8">NPs</text>
<text x="268.8" y="583.6">BOLS</text>
</g>
<g class="sym">
<text x="337.7" y="522.4">τ</text>
<text transform="translate(346,522.4) scale(1.17,1)">=</text>
<text x="360.4" y="522.6" style="font-size:23.5px">2</text>
<text x="337.7" y="583.8">τ</text>
<text transform="translate(346,583.8) scale(1.17,1)">=</text>
<text x="360.8" y="584" style="font-size:23px">3</text>
</g>
<rect x="57.60" y="319" width="4.80" height="5" fill="#fff"/>
<rect x="65.40" y="319" width="4.80" height="5" fill="#fff"/>
<rect x="40.71" y="227" width="4.80" height="5" fill="#fff"/>
<rect x="48.51" y="227" width="4.80" height="5" fill="#fff"/>
<rect x="54.21" y="420" width="4.80" height="5" fill="#fff"/>
<rect x="62.01" y="420" width="4.80" height="5" fill="#fff"/>
<rect x="133.44" y="683" width="4.80" height="5" fill="#fff"/>
<rect x="141.24" y="683" width="4.80" height="5" fill="#fff"/>
</svg></body></html>
